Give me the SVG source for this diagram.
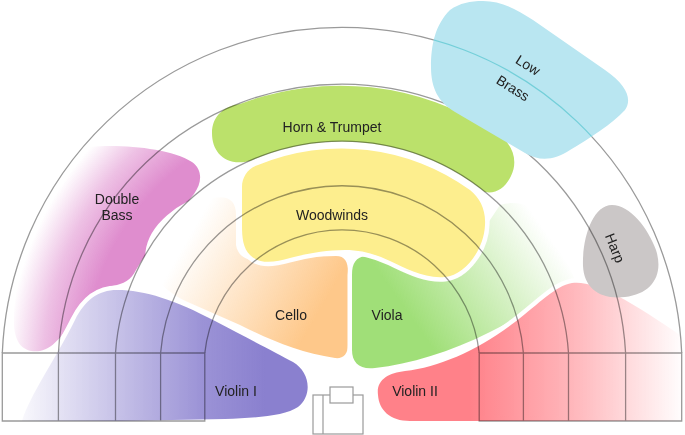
<svg xmlns="http://www.w3.org/2000/svg" width="685" height="435" viewBox="0 0 685 435">
  <style>
    .lbl { font-family: "Liberation Sans", Arial, sans-serif; font-size: 14px; fill: #222; text-anchor: middle; }
    .sec { stroke: #fff; stroke-width: 9; paint-order: stroke; stroke-linejoin: round; }
    .ln { fill: none; stroke: #9a9a9a; stroke-width: 1.3; }
    .blend { mix-blend-mode: multiply; }
  </style>
  <defs>
    <radialGradient id="gBass" gradientUnits="userSpaceOnUse" cx="342" cy="368" r="340">
      <stop offset="0.76" stop-color="#df8dce" stop-opacity="1"/>
      <stop offset="0.88" stop-color="#df8dce" stop-opacity="0.55"/>
      <stop offset="0.985" stop-color="#df8dce" stop-opacity="0"/>
    </radialGradient>
    <linearGradient id="gCello" gradientUnits="userSpaceOnUse" x1="190" y1="235" x2="320" y2="310">
      <stop offset="0" stop-color="#fec88a" stop-opacity="0"/>
      <stop offset="0.45" stop-color="#fec88a" stop-opacity="0.45"/>
      <stop offset="1" stop-color="#fec88a" stop-opacity="1"/>
    </linearGradient>
    <linearGradient id="gVln1" gradientUnits="userSpaceOnUse" x1="10" y1="0" x2="265" y2="0">
      <stop offset="0" stop-color="#8a80cf" stop-opacity="0"/>
      <stop offset="0.3" stop-color="#8a80cf" stop-opacity="0.35"/>
      <stop offset="0.75" stop-color="#8a80cf" stop-opacity="0.85"/>
      <stop offset="1" stop-color="#8a80cf" stop-opacity="1"/>
    </linearGradient>
    <linearGradient id="gViola" gradientUnits="userSpaceOnUse" x1="420" y1="330" x2="550" y2="238">
      <stop offset="0" stop-color="#a0df78" stop-opacity="1"/>
      <stop offset="1" stop-color="#a0df78" stop-opacity="0"/>
    </linearGradient>
    <linearGradient id="gVln2" gradientUnits="userSpaceOnUse" x1="470" y1="0" x2="685" y2="0">
      <stop offset="0" stop-color="#ff8189" stop-opacity="1"/>
      <stop offset="0.5" stop-color="#ff8189" stop-opacity="0.55"/>
      <stop offset="1" stop-color="#ff8189" stop-opacity="0"/>
    </linearGradient>
    <clipPath id="clipLow">
      <path id="lowShape" d="M 483,1 C 500,1 515,8 533,20 L 605,70 C 628,86 632,100 625,110 C 612,124 590,138 570,150 C 555,160 540,162 525,153 L 455,112 C 438,102 431,88 431,67 C 431,45 435,25 450,10 C 460,3 470,1 483,1 Z"/>
    </clipPath>
  </defs>

  <g id="double-bass">
    <path class="sec" fill="url(#gBass)" d="M 90,147 C 120,144 170,148 192,162 C 203,170 202,183 194,194 C 175,218 150,245 136,270 C 131,280 124,284 112,286 C 98,289 88,298 78,312 C 65,332 55,348 40,351 C 25,353 15,345 14,325 C 13,280 30,210 62,165 C 70,154 80,148 90,147 Z"/>
  </g>
  <g id="cello">
    <path class="sec" fill="url(#gCello)" d="M 348,272 L 348,345 C 348,354 343,359 335,358 C 300,353 270,340 240,325 L 190,303 C 165,292 148,275 150,252 C 153,228 180,205 212,198 C 228,195 236,200 236,215 L 236,245 C 238,258 250,262 265,261 C 290,259 315,256 336,256 C 345,256 348,262 348,272 Z"/>
  </g>
  <g id="violin-1">
    <path class="sec" fill="url(#gVln1)" d="M 22,421 C 30,395 55,360 75,320 C 85,300 98,290 117,290 C 145,290 175,300 215,321 C 245,337 275,352 293,362 C 310,372 313,395 298,407 C 285,416 255,418 225,419 L 120,421 Z"/>
  </g>
  <g id="viola">
    <path class="sec" fill="url(#gViola)" d="M 352,275 C 352,263 356,257 366,256 C 380,255 392,258 405,262 L 470,250 L 500,205 C 515,200 535,205 548,218 L 576,282 C 550,298 525,315 490,332 C 450,352 410,364 375,368 C 360,370 352,363 352,350 Z"/>
  </g>
  <g id="violin-2">
    <path class="sec" fill="url(#gVln2)" d="M 378,395 C 376,380 388,373 405,371 C 440,367 478,350 515,322 C 540,303 555,286 572,283 C 595,280 630,300 690,342 L 690,421 L 410,421 C 390,421 379,410 378,395 Z"/>
  </g>
  <g id="horn-trumpet">
    <path class="sec" fill="#bbe16b" d="M 240,104 A 282 282 0 0 1 495,132 C 512,142 519,160 511,176 C 505,188 496,194 485,192 A 227 227 0 0 0 250,161 C 225,167 212,152 212,133 C 212,116 224,106 240,104 Z"/>
  </g>
  <g id="woodwinds">
    <path class="sec" fill="#fdee8e" d="M 258,165 A 219 219 0 0 1 470,190 C 480,198 486,210 485,225 C 484,250 465,275 445,277 C 425,279 405,268 390,261 C 375,254 362,250 345,250 C 325,250 305,254 290,258 C 275,262 260,265 250,255 C 243,248 242,238 242,225 L 242,187 C 242,177 248,168 258,165 Z"/>
  </g>
  <g id="harp">
    <path fill="#cbc7c7" d="M 612,205 C 630,205 648,228 656,250 C 664,275 652,294 625,297 C 600,300 584,288 583,266 C 582,240 592,205 612,205 Z"/>
  </g>

  <g id="stage-lines" class="blend">
    <path class="ln" d="M 2.3,353 A 340 340 0 0 1 681.7,353"/>
    <path class="ln" d="M 58.4,353 A 284 284 0 0 1 625.6,353"/>
    <path class="ln" d="M 115.5,353 A 227 227 0 0 1 568.5,353"/>
    <path class="ln" d="M 160.6,353 A 182 182 0 0 1 523.4,353"/>
    <path class="ln" d="M 204.8,353 A 138 138 0 0 1 479.2,353"/>
    <path class="ln" d="M 2.3,353 H 204.8 V 421 H 2.3 Z M 58.4,353 V 421 M 115.5,353 V 421 M 160.6,353 V 421"/>
    <path class="ln" d="M 479.2,353 H 681.7 V 421 H 479.2 Z M 523.4,353 V 421 M 568.5,353 V 421 M 625.6,353 V 421"/>
  </g>

  <g id="low-brass">
    <use href="#lowShape" fill="#b9e6f1"/>
    <path clip-path="url(#clipLow)" fill="none" stroke="#74cfd9" stroke-width="1.3" d="M 2.3,353 A 340 340 0 0 1 681.7,353"/>
  </g>

  <g id="conductor" fill="#fff" stroke="#9a9a9a" stroke-width="1.2">
    <rect x="313" y="395" width="50" height="39"/>
    <line x1="323" y1="395" x2="323" y2="434"/>
    <rect x="330" y="387" width="23" height="16"/>
  </g>

  <g id="labels">
    <text class="lbl" x="332" y="132">Horn &amp; Trumpet</text>
    <text class="lbl" x="332" y="220">Woodwinds</text>
    <text class="lbl" x="117" y="204">Double</text>
    <text class="lbl" x="117" y="220">Bass</text>
    <text class="lbl" transform="translate(528,65) rotate(32)" y="5">Low</text>
    <text class="lbl" transform="translate(513,88) rotate(32)" y="5">Brass</text>
    <text class="lbl" x="291" y="320">Cello</text>
    <text class="lbl" x="387" y="320">Viola</text>
    <text class="lbl" x="236" y="396">Violin I</text>
    <text class="lbl" x="415" y="396">Violin II</text>
    <text class="lbl" transform="translate(615,248) rotate(68)" y="5">Harp</text>
  </g>
</svg>
